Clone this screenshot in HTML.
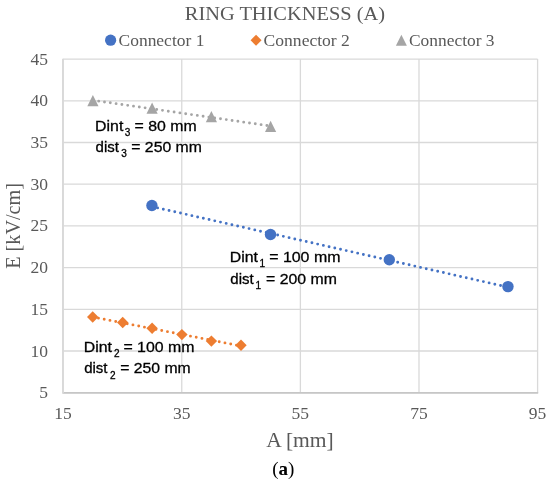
<!DOCTYPE html>
<html><head><meta charset="utf-8"><title>Ring thickness (A)</title>
<style>
html,body{margin:0;padding:0;background:#fff;}
svg{display:block;}
.serif{font-family:"Liberation Serif",serif;}
.sans{font-family:"Liberation Sans",sans-serif;}
</style></head><body>
<svg width="550" height="483" viewBox="0 0 550 483">
<rect x="0" y="0" width="550" height="483" fill="#ffffff"/>

<g stroke="#D9D9D9" stroke-width="1.3" fill="none">
<line x1="63.15" y1="392.70" x2="537.60" y2="392.70"/>
<line x1="63.15" y1="351.00" x2="537.60" y2="351.00"/>
<line x1="63.15" y1="309.30" x2="537.60" y2="309.30"/>
<line x1="63.15" y1="267.60" x2="537.60" y2="267.60"/>
<line x1="63.15" y1="225.90" x2="537.60" y2="225.90"/>
<line x1="63.15" y1="184.20" x2="537.60" y2="184.20"/>
<line x1="63.15" y1="142.50" x2="537.60" y2="142.50"/>
<line x1="63.15" y1="100.80" x2="537.60" y2="100.80"/>
<line x1="63.15" y1="59.10" x2="537.60" y2="59.10"/>
<line x1="181.76" y1="59.10" x2="181.76" y2="392.70"/>
<line x1="300.38" y1="59.10" x2="300.38" y2="392.70"/>
<line x1="418.99" y1="59.10" x2="418.99" y2="392.70"/>
<line x1="537.60" y1="59.10" x2="537.60" y2="392.70"/>
<line x1="62.55" y1="392.8" x2="538.20" y2="392.8" stroke="#C6C6C6" stroke-width="1.7"/>
<line x1="63.0" y1="58.70" x2="63.0" y2="393.60" stroke="#D8D8D8" stroke-width="1.9"/>
</g>
<g class="serif" font-size="17.5" fill="#595959">
<text x="47.9" y="398.20" text-anchor="end">5</text>
<text x="47.9" y="356.50" text-anchor="end">10</text>
<text x="47.9" y="314.80" text-anchor="end">15</text>
<text x="47.9" y="273.10" text-anchor="end">20</text>
<text x="47.9" y="231.40" text-anchor="end">25</text>
<text x="47.9" y="189.70" text-anchor="end">30</text>
<text x="47.9" y="148.00" text-anchor="end">35</text>
<text x="47.9" y="106.30" text-anchor="end">40</text>
<text x="47.9" y="64.60" text-anchor="end">45</text>
<text x="63.05" y="419.3" text-anchor="middle">15</text>
<text x="181.66" y="419.3" text-anchor="middle">35</text>
<text x="300.27" y="419.3" text-anchor="middle">55</text>
<text x="418.89" y="419.3" text-anchor="middle">75</text>
<text x="537.50" y="419.3" text-anchor="middle">95</text>
</g>
<text class="serif" x="284.9" y="19.6" font-size="19.5" fill="#595959" text-anchor="middle" textLength="200.2" lengthAdjust="spacingAndGlyphs">RING THICKNESS (A)</text>
<text class="serif" x="300.0" y="446.5" font-size="20.4" fill="#595959" text-anchor="middle" textLength="67.6" lengthAdjust="spacingAndGlyphs">A [mm]</text>
<text class="serif" transform="translate(19.8,225.9) rotate(-90)" font-size="20.3" fill="#595959" text-anchor="middle" textLength="85.8" lengthAdjust="spacingAndGlyphs">E [kV/cm]</text>
<text class="serif" x="283.3" y="474.5" font-size="19" font-weight="bold" fill="#000" text-anchor="middle"><tspan font-weight="normal">(</tspan>a<tspan font-weight="normal">)</tspan></text>
<circle cx="110.60" cy="40.20" r="5.60" fill="#4472C4"/>
<path d="M256.05 34.80L261.55 40.30L256.05 45.80L250.55 40.30Z" fill="#ED7D31"/>
<path d="M401.40 34.70L406.90 45.70L395.90 45.70Z" fill="#A5A5A5"/>
<g class="serif" font-size="17.5" fill="#595959">
<text x="118.5" y="45.7" textLength="85.9" lengthAdjust="spacingAndGlyphs">Connector 1</text>
<text x="263.6" y="45.7" textLength="86.3" lengthAdjust="spacingAndGlyphs">Connector 2</text>
<text x="409.0" y="45.7" textLength="85.5" lengthAdjust="spacingAndGlyphs">Connector 3</text>
</g>
<line x1="151.90" y1="206.60" x2="507.95" y2="287.18" stroke="#4472C4" stroke-width="2.9" stroke-linecap="round" stroke-dasharray="0 5.86" fill="none"/>
<line x1="92.70" y1="317.01" x2="241.00" y2="346.04" stroke="#ED7D31" stroke-width="2.9" stroke-linecap="round" stroke-dasharray="0 5.86" fill="none"/>
<line x1="92.90" y1="100.29" x2="270.60" y2="126.04" stroke="#A5A5A5" stroke-width="2.9" stroke-linecap="round" stroke-dasharray="0 5.86" fill="none"/>
<circle cx="151.90" cy="205.50" r="5.70" fill="#4472C4"/>
<circle cx="270.50" cy="234.45" r="5.70" fill="#4472C4"/>
<circle cx="389.30" cy="259.80" r="5.70" fill="#4472C4"/>
<circle cx="507.95" cy="286.60" r="5.70" fill="#4472C4"/>
<path d="M92.70 311.30L98.40 317.00L92.70 322.70L87.00 317.00Z" fill="#ED7D31"/>
<path d="M122.70 316.80L128.40 322.50L122.70 328.20L117.00 322.50Z" fill="#ED7D31"/>
<path d="M152.10 322.60L157.80 328.30L152.10 334.00L146.40 328.30Z" fill="#ED7D31"/>
<path d="M181.90 328.90L187.60 334.60L181.90 340.30L176.20 334.60Z" fill="#ED7D31"/>
<path d="M211.40 335.40L217.10 341.10L211.40 346.80L205.70 341.10Z" fill="#ED7D31"/>
<path d="M241.00 339.50L246.70 345.20L241.00 350.90L235.30 345.20Z" fill="#ED7D31"/>
<path d="M92.90 94.95L98.50 106.15L87.30 106.15Z" fill="#A5A5A5"/>
<path d="M152.10 102.50L157.70 113.70L146.50 113.70Z" fill="#A5A5A5"/>
<path d="M211.40 111.10L217.00 122.30L205.80 122.30Z" fill="#A5A5A5"/>
<path d="M270.60 120.70L276.20 131.90L265.00 131.90Z" fill="#A5A5A5"/>
<text class="sans" font-size="15" fill="#000" stroke="#000" stroke-width="0.3"><tspan x="95.10" y="130.80" textLength="28.2" lengthAdjust="spacingAndGlyphs">Dint</tspan><tspan x="124.70" y="136.00" font-size="10">3</tspan><tspan x="134.55" y="130.80" textLength="62.15" lengthAdjust="spacingAndGlyphs">= 80 mm</tspan></text>
<text class="sans" font-size="15" fill="#000" stroke="#000" stroke-width="0.3"><tspan x="95.60" y="152.00">dist</tspan><tspan x="121.20" y="157.20" font-size="10">3</tspan><tspan x="131.25" y="152.00" textLength="70.65" lengthAdjust="spacingAndGlyphs">= 250 mm</tspan></text>
<text class="sans" font-size="15" fill="#000" stroke="#000" stroke-width="0.3"><tspan x="229.80" y="262.20" textLength="28.2" lengthAdjust="spacingAndGlyphs">Dint</tspan><tspan x="259.40" y="267.40" font-size="10">1</tspan><tspan x="269.15" y="262.20" textLength="71.35" lengthAdjust="spacingAndGlyphs">= 100 mm</tspan></text>
<text class="sans" font-size="15" fill="#000" stroke="#000" stroke-width="0.3"><tspan x="230.30" y="283.70">dist</tspan><tspan x="255.40" y="288.90" font-size="10">1</tspan><tspan x="266.05" y="283.70" textLength="70.85" lengthAdjust="spacingAndGlyphs">= 200 mm</tspan></text>
<text class="sans" font-size="15" fill="#000" stroke="#000" stroke-width="0.3"><tspan x="83.70" y="351.90" textLength="28.2" lengthAdjust="spacingAndGlyphs">Dint</tspan><tspan x="113.95" y="357.10" font-size="10">2</tspan><tspan x="123.45" y="351.90" textLength="71.05" lengthAdjust="spacingAndGlyphs">= 100 mm</tspan></text>
<text class="sans" font-size="15" fill="#000" stroke="#000" stroke-width="0.3"><tspan x="84.20" y="373.40">dist</tspan><tspan x="110.10" y="378.60" font-size="10">2</tspan><tspan x="120.15" y="373.40" textLength="70.55" lengthAdjust="spacingAndGlyphs">= 250 mm</tspan></text>
</svg></body></html>
